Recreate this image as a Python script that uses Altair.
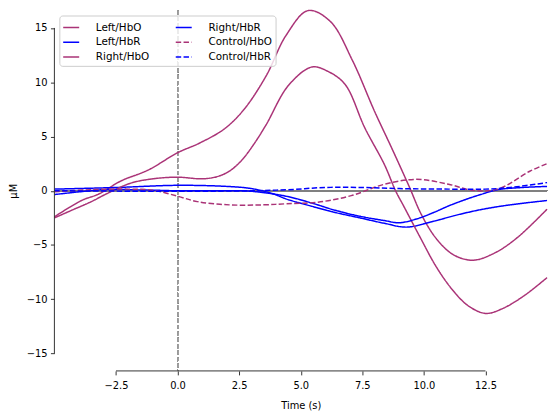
import altair as alt
import pandas as pd

# HRF averages (time in s, concentration in uM)
left_hbo_t = [-5, -3.9, -3.2, -2.3, -1.2, 0, 0.9, 1.9, 2.7, 3.6, 4.4, 5.3, 6.2, 7.1,
              8.0, 8.7, 9.4, 9.9, 10.5, 11.2, 12.0, 12.9, 13.8, 15]
left_hbo_v = [-2.4, -0.9, -0.3, 0.9, 1.9, 3.5, 4.4, 5.7, 7.5, 10.6, 14.3, 16.6, 15.6, 12.0,
              7.3, 3.9, 0.4, -2.2, -4.4, -5.9, -6.4, -5.7, -4.3, -1.7]

right_hbo_t = [-5, -4.3, -3.5, -2.9, -1.9, -1, 0, 1.0, 1.6, 2.1, 2.6, 3.1, 3.6, 4.5, 5.45, 6.1,
               6.8, 7.6, 8.4, 8.85, 9.2, 9.85, 10.5, 11.15, 11.8, 12.5, 13.15, 14.05, 15]
right_hbo_v = [-2.5, -1.8, -1.0, -0.3, 0.7, 1.1, 1.25, 1.1, 1.3, 1.8, 2.8, 4.3, 6.1, 9.7, 11.4,
               11.0, 9.8, 5.8, 2.4, 0.0, -1.5, -4.3, -7.0, -9.1, -10.6, -11.3, -10.9, -9.7, -8.0]

left_hbr_t = [-5, -2.5, 0, 2, 3, 3.9, 4.4, 5.4, 6.4, 7.4, 8.4, 9.3, 10.4, 11.4, 12.4, 13.5, 15]
left_hbr_v = [0.15, 0.3, 0.5, 0.4, 0.2, -0.3, -0.75, -1.4, -2.0, -2.5, -3.0, -3.35, -2.8,
              -2.2, -1.7, -1.3, -0.9]

right_hbr_t = [-5, -4, -3, -1, 0, 2, 3, 4.4, 5.4, 6.4, 7.4, 8.4, 9.0, 9.7, 10.4, 11.0,
               11.7, 12.3, 13.0, 14, 15]
right_hbr_v = [-0.35, -0.1, 0.1, 0.05, 0.0, 0.0, -0.05, -0.5, -1.1, -1.8, -2.35, -2.75, -2.95,
               -2.6, -2.0, -1.4, -0.8, -0.35, 0.1, 0.3, 0.4]

ctrl_hbo_t = [-5, -3.5, -2, -1, 0, 0.8, 2.1, 3.5, 4.4, 5.7, 7.05, 8.4, 9.7, 11.0, 11.95,
              13.0, 14.3, 15]
ctrl_hbo_v = [-0.1, 0.1, 0.15, 0.05, -0.5, -1.0, -1.3, -1.3, -1.2, -1.05, -0.45, 0.6, 1.05,
              0.6, 0.05, 0.15, 1.8, 2.5]

ctrl_hbr_t = [-5, 0, 3, 4.5, 6, 7.5, 9, 11, 12.5, 13.5, 15]
ctrl_hbr_v = [0.0, -0.05, 0.0, 0.1, 0.3, 0.3, 0.2, 0.15, 0.15, 0.3, 0.75]

# vega fills a multi-column legend column by column, like matplotlib's ncol=2
conditions = ['Left/HbO', 'Left/HbR', 'Right/HbO', 'Right/HbR', 'Control/HbO', 'Control/HbR']
hbo_col = '#AA3377'
hbr_col = '#0000FF'
colors = [hbo_col, hbr_col, hbo_col, hbr_col, hbo_col, hbr_col]
dashes = [[1, 0], [1, 0], [1, 0], [1, 0], [5.5, 2.4], [5.5, 2.4]]

x_ticks = [-2.5, 0, 2.5, 5, 7.5, 10, 12.5]
y_ticks = [-15, -10, -5, 0, 5, 10, 15]

series = {
    'Left/HbO': (left_hbo_t, left_hbo_v),
    'Left/HbR': (left_hbr_t, left_hbr_v),
    'Right/HbO': (right_hbo_t, right_hbo_v),
    'Right/HbR': (right_hbr_t, right_hbr_v),
    'Control/HbO': (ctrl_hbo_t, ctrl_hbo_v),
    'Control/HbR': (ctrl_hbr_t, ctrl_hbr_v),
}
rows = []
for cond, (ts, vs) in series.items():
    for t, v in zip(ts, vs):
        rows.append({'cond': cond, 'time': t, 'value': v})
df = pd.DataFrame(rows)

W, H = 499, 365
xscale = alt.Scale(domain=[-5, 15], nice=False, zero=False)
yscale = alt.Scale(domain=[-16.6, 16.6], nice=False, zero=False)

x_axis = alt.Axis(title='Time (s)', values=x_ticks, domain=False, grid=False,
                  labelExpr="replace(format(datum.value, '.1f'), '-', '\u2212')",
                  labelPadding=6, titlePadding=10)
y_axis = alt.Axis(title='\u00b5M', values=y_ticks, domain=False, grid=False,
                  labelExpr="replace(format(datum.value, 'd'), '-', '\u2212')",
                  titleX=-41, titleY=H / 2, titleBaseline='middle', titleAlign='center')
legend = alt.Legend(title=None, orient='none', legendX=5, legendY=5, columns=2,
                    strokeColor='#cccccc', fillColor='rgba(255,255,255,0.8)')

lines = alt.Chart(df).mark_line(strokeWidth=1.5, interpolate='catmull-rom').encode(
    x=alt.X('time:Q', scale=xscale, axis=x_axis),
    y=alt.Y('value:Q', scale=yscale, axis=y_axis),
    color=alt.Color('cond:N', scale=alt.Scale(domain=conditions, range=colors), legend=legend),
    strokeDash=alt.StrokeDash('cond:N', scale=alt.Scale(domain=conditions, range=dashes),
                              legend=legend),
    detail='cond:N',
)

zero_line = alt.Chart(df).mark_rule(color='#808080', strokeWidth=1.2).encode(
    y=alt.datum(0, scale=yscale, axis=y_axis))
onset_line = alt.Chart(df).mark_rule(color='#999999', strokeWidth=1, strokeDash=[4, 2.5]).encode(
    x=alt.datum(0, scale=xscale, axis=x_axis))

# truncated spines like matplotlib
yspine = pd.DataFrame({'lo': [y_ticks[0]], 'hi': [y_ticks[-1]]})
xspine = pd.DataFrame({'lo': [x_ticks[0]], 'hi': [x_ticks[-1]]})
y_spine = alt.Chart(yspine).mark_rule(color='#333333', strokeWidth=1).encode(
    x=alt.value(0), y=alt.Y('lo:Q', scale=yscale, axis=y_axis), y2='hi:Q')
x_spine = alt.Chart(xspine).mark_rule(color='#333333', strokeWidth=1).encode(
    y=alt.value(H), x=alt.X('lo:Q', scale=xscale, axis=x_axis), x2='hi:Q')

chart = alt.layer(zero_line, onset_line, lines, y_spine, x_spine).properties(
    width=W, height=H,
    autosize=alt.AutoSizeParams(type='none'),
    padding={'left': 47, 'top': 0, 'right': 5, 'bottom': 40},
).configure(font='DejaVu Sans').configure_view(strokeWidth=0).configure_axis(
    labelFontSize=10, titleFontSize=10, titleFontWeight='normal', labelColor='black',
    titleColor='black', tickColor='#333333', tickSize=4, tickWidth=1, labelPadding=3.5
).configure_legend(
    labelColor='black', labelFontSize=10.5, symbolType='stroke', symbolSize=262,
    symbolStrokeWidth=1.5, labelOffset=16, columnPadding=22, rowPadding=0, padding=3,
    strokeColor='#cccccc', strokeWidth=1, fillColor='rgba(255,255,255,0.8)', cornerRadius=3
)

chart.save('out.html', embed_options={'renderer': 'svg', 'actions': False})
